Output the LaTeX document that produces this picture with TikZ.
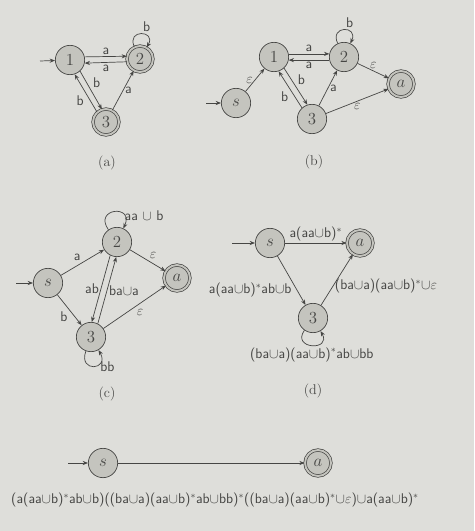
\documentclass[tikz,border=0pt]{standalone}
\usepackage{tikz}
\usetikzlibrary{arrows.meta}
\definecolor{page}{RGB}{222,222,218}
\definecolor{statefill}{RGB}{196,196,190}
\definecolor{ink}{RGB}{70,70,68}
\newcommand{\ucup}{\ensuremath{\cup}}
\newcommand{\kst}{\ensuremath{^*}}
\newcommand{\epsl}{\ensuremath{\varepsilon}}
\tikzset{
  st/.style={circle,draw=ink,fill=statefill,semithick,minimum size=0.88cm,inner sep=0pt,font=\Large,text=ink},
  acc/.style={double=statefill,double distance=1.6pt,minimum size=0.78cm},
  tr/.style={draw=ink,semithick,-{Stealth[length=4.5pt,width=3.5pt]}},
  lab/.style={font=\sffamily\fontsize{12}{14}\selectfont,text=ink,inner sep=1.5pt},
  captext/.style={font=\large,text=ink},
}

\begin{document}
\begin{tikzpicture}[x=0.03cm,y=-0.03cm]
\fill[page] (0,0) rectangle (474,531);
% (a)
\node[st] (a1) at (70,60) {1};
\node[st,acc] (a2) at (140,59) {2};
\node[st,acc] (a3) at (106,122) {3};
\coordinate (a0) at (40,61);
\draw[tr] (a0) -- (a1);
\draw[tr] (a1.12) -- node[lab,above] {a} (a2.168);
\draw[tr] (a2.192) -- node[lab,below] {a} (a1.348);
\draw[tr] (a1.-48) -- node[lab,above right] {b} (a3.108);
\draw[tr] (a3.132) -- node[lab,below left] {b} (a1.-72);
\draw[tr] (a3) -- node[lab,right] {a} (a2);
\draw[tr] (a2) to[loop,out=115,in=60,min distance=6mm] node[lab,above right] {b} (a2);
\node[captext] (capa) at (107,163) {(a)};
% (b)
\node[st] (bs) at (236,103) {$s$};
\node[st] (b1) at (274,57) {1};
\node[st] (b2) at (344,57) {2};
\node[st] (b3) at (312,119) {3};
\node[st,acc] (ba) at (401,84) {$a$};
\coordinate (b0) at (206,103);
\draw[tr] (b0) -- (bs);
\draw[tr] (bs) -- node[lab,left] {\epsl} (b1);
\draw[tr] (b1.12) -- node[lab,above] {a} (b2.168);
\draw[tr] (b2.192) -- node[lab,below] {a} (b1.348);
\draw[tr] (b1.-48) -- node[lab,above right] {b} (b3.108);
\draw[tr] (b3.132) -- node[lab,below left] {b} (b1.-72);
\draw[tr] (b3) -- node[lab,right] {a} (b2);
\draw[tr] (b2) -- node[lab,above] {\epsl} (ba);
\draw[tr] (b3) -- node[lab,below] {\epsl} (ba);
\draw[tr] (b2) to[loop,out=115,in=65,min distance=6mm] node[lab,above right] {b} (b2);
\node[captext] (capb) at (314,162) {(b)};
% (c)
\node[st] (cs) at (48,283) {$s$};
\node[st] (c2) at (117,242) {2};
\node[st] (c3) at (91,337) {3};
\node[st,acc] (ca) at (177,278) {$a$};
\coordinate (c0) at (16,283);
\draw[tr] (c0) -- (cs);
\draw[tr] (cs) -- node[lab,above left] {a} (c2);
\draw[tr] (cs) -- node[lab,below left] {b} (c3);
\draw[tr] (c2.-117) -- node[lab,left] {ab} (c3.87);
\draw[tr] (c3.63) -- node[lab,right] {ba\ucup a} (c2.-93);
\draw[tr] (c2) -- node[lab,above right] {\epsl} (ca);
\draw[tr] (c3) -- node[lab,below right] {\epsl} (ca);
\draw[tr] (c2) to[loop,out=125,in=65,min distance=8mm] node[lab,right,xshift=7pt,yshift=-3pt] {aa \ucup\ b} (c2);
\draw[tr] (c3) to[loop,out=-110,in=-60,min distance=7mm] node[lab,right,xshift=4pt] {bb} (c3);
\node[captext] (capc) at (107,394) {(c)};
% (d)
\node[st] (ds) at (270,243) {$s$};
\node[st,acc] (da) at (360,243) {$a$};
\node[st] (d3) at (313,318) {3};
\coordinate (d0) at (232,243);
\draw[tr] (d0) -- (ds);
\draw[tr] (ds) -- node[lab,above] {a(aa\ucup b)\kst} (da);
\draw[tr] (ds) -- node[lab,left,pos=0.7,xshift=-3pt] {a(aa\ucup b)\kst ab\ucup b} (d3);
\draw[tr] (d3) -- node[lab,right,pos=0.37] {(ba\ucup a)(aa\ucup b)\kst\ucup\epsl} (da);
\draw[tr] (d3) to[loop,out=-125,in=-60,min distance=7mm] node[lab,below] {(ba\ucup a)(aa\ucup b)\kst ab\ucup bb} (d3);
\node[captext] (capd) at (313,391) {(d)};
% final
\node[st] (es) at (103,463) {$s$};
\node[st,acc] (ea) at (318,463) {$a$};
\coordinate (e0) at (68,463);
\draw[tr] (e0) -- (es);
\draw[tr] (es) -- (ea);
\node[lab] (expr) at (215,500) {(a(aa\ucup b)\kst ab\ucup b)((ba\ucup a)(aa\ucup b)\kst ab\ucup bb)\kst((ba\ucup a)(aa\ucup b)\kst\ucup\epsl)\ucup a(aa\ucup b)\kst};
\end{tikzpicture}
\end{document}
